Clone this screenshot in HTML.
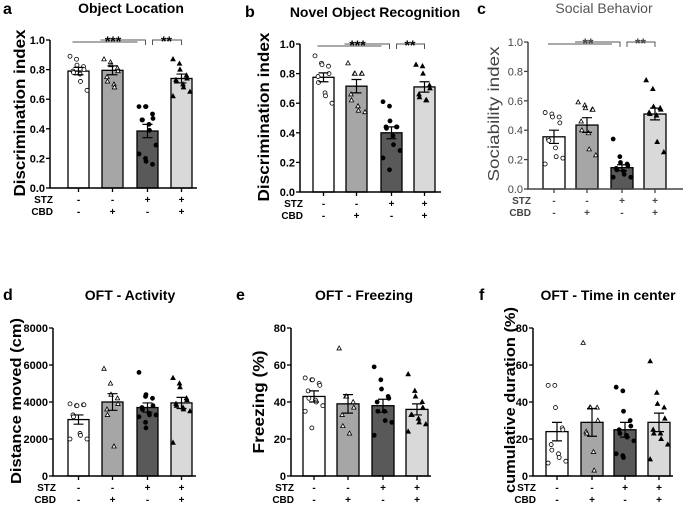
<!DOCTYPE html>
<html><head><meta charset="utf-8">
<style>
html,body{margin:0;padding:0;background:#fff;}
svg{display:block;font-family:"Liberation Sans",Arial,sans-serif;}
</style></head>
<body>
<svg id="fig" width="685" height="507" viewBox="0 0 685 507" xmlns="http://www.w3.org/2000/svg"></svg>
<script>
// ---- data ----
const groups = ["Vehicle","CBD","STZ","STZ+CBD"];
const stzRow = ["-","-","+","+"];
const cbdRow = ["-","+","-","+"];

const aMeans = [0.79,0.795,0.385,0.74];
const aSem = [0.025,0.03,0.045,0.03];
const aPts = [[0.89,0.87,0.83,0.82,0.80,0.79,0.78,0.77,0.72,0.66],[0.87,0.85,0.83,0.81,0.79,0.75,0.72,0.70,0.68],[0.55,0.55,0.55,0.50,0.47,0.46,0.46,0.43,0.39,0.29,0.23,0.20,0.18,0.16],[0.87,0.84,0.80,0.76,0.74,0.73,0.72,0.70,0.68,0.65,0.62]];
const bMeans = [0.775,0.715,0.40,0.71];
const bSem = [0.03,0.045,0.04,0.035];
const bPts = [[0.92,0.87,0.86,0.85,0.80,0.78,0.74,0.67,0.65,0.60],[0.87,0.80,0.80,0.80,0.80,0.66,0.62,0.58,0.55,0.54],[0.61,0.58,0.48,0.44,0.44,0.44,0.43,0.38,0.32,0.28,0.23,0.15],[0.86,0.85,0.80,0.72,0.70,0.66,0.64,0.62,0.62]];
const cMeans = [0.355,0.435,0.145,0.51];
const cSem = [0.045,0.05,0.02,0.04];
const cPts = [[0.52,0.51,0.49,0.49,0.45,0.34,0.33,0.28,0.22,0.21,0.17],[0.59,0.57,0.55,0.54,0.54,0.46,0.40,0.38,0.27,0.23],[0.34,0.22,0.18,0.17,0.16,0.14,0.13,0.12,0.10,0.08,0.08],[0.74,0.68,0.56,0.55,0.54,0.52,0.51,0.50,0.32,0.25]];
const dMeans = [3050,4000,3700,3950];
const dSem = [250,450,250,300];
const dPts = [[3900,3800,3800,3850,3850,3300,3200,2300,2200,2000,2000],[5800,5000,4400,4200,3900,3600,3300,1600],[5600,4300,4400,4200,3800,3700,3600,3400,3300,3300,3200,2900,2600],[5300,5000,4800,4200,4100,3900,3800,3700,3600,3500,1800]];
const eMeans = [43,39,38,36];
const eSem = [3,5,3.5,3];
const ePts = [[53,52,52,50,49,46,42,41,40,38,35,26],[69,43,43,40,37,33,27,23],[59,52,47,43,42,40,35,35,30,29,22],[55,46,43,40,37,33,33,31,29,28,24]];
const fMeans = [24,29,25,29];
const fSem = [5,7.5,4,5];
const fPts = [[49,49,37,26,25,17,14,12,10,8,7],[72,37,37,37,30,24,23,13,3],[48,46,35,30,27,25,23,22,21,19,12,11,10],[62,45,39,37,31,25,23,23,20,17,9]];

const ticksUnit = [0,0.2,0.4,0.6,0.8,1.0];
const tickLabelsUnit = ["0.0","0.2","0.4","0.6","0.8","1.0"];
const ticksDist = [0,2000,4000,6000,8000];
const tickLabelsDist = ["0","2000","4000","6000","8000"];
const ticksPct = [0,20,40,60,80];
const tickLabelsPct = ["0","20","40","60","80"];

const svg = document.getElementById('fig');
const NS = 'http://www.w3.org/2000/svg';
const fills = ['#ffffff','#a6a6a6','#595959','#d9d9d9'];

function mk(tag, attrs, parent){
  const e = document.createElementNS(NS, tag);
  for (const k in attrs) e.setAttribute(k, attrs[k]);
  (parent||svg).appendChild(e);
  return e;
}
function txt(s, attrs, parent){ const t = mk('text', attrs, parent); t.textContent = s; return t; }

function panel(c){
  const g = mk('g', {});
  
  
  const col = c.light ? '#444' : '#000';
  const fw = c.light ? 'normal' : 'bold';
  const y = v => c.y0 - (v - c.vmin) / (c.vmax - c.vmin) * (c.y0 - c.y1);
  const xc = i => c.bx[i] + c.bw/2;
  const L = txt(c.id, {x:c.lx, y:c.ly, 'font-size':16, 'font-weight':'bold', fill:'#000'}, g);
  
  
  const T = txt(c.title, {x:c.tx, y:c.ty, 'font-size':14, 'font-weight':fw, fill:c.light?'#555':'#000', 'text-anchor':'middle'}, g);
  
  
  const YL = txt(c.ylabel, {x:0, y:0, 'font-size':c.ylfs || 16, 'font-weight':fw, fill:col, 'text-anchor':'middle', textLength:c.ylLen, lengthAdjust:'spacingAndGlyphs', transform:'translate(' + c.ylx + ',' + c.yly + ') rotate(-90)'}, g);
  
  
  c.means.forEach((m, i) => {
    const r = mk('rect', {x:c.bx[i], y:y(m), width:c.bw, height:c.y0 - y(m), fill:fills[i], stroke:'#000', 'stroke-width':1.3}, g);
    
    
  });
  c.pts.forEach((arr, i) => {
    arr.forEach((v, j) => {
      const off = ((j % 5) - 2) * (c.bw / 6) + (j % 2 ? 1.5 : -1.5);
      const px = xc(i) + off, py = y(v);
      let p;
      if (i === 0 || i === 2) {
        p = mk('circle', {cx:px, cy:py, r:2, fill:i === 0 ? '#fff' : '#000', stroke:'#000', 'stroke-width':0.8}, g);
      } else {
        p = mk('polygon', {points:(px) + ',' + (py-2.4) + ' ' + (px-2.2) + ',' + (py+1.6) + ' ' + (px+2.2) + ',' + (py+1.6), fill:i === 1 ? '#fff' : '#000', stroke:'#000', 'stroke-width':0.8}, g);
      }
      
      
    });
  });
  c.means.forEach((m, i) => {
    const eb = mk('path', {d:'M' + xc(i) + ' ' + y(m - c.sem[i]) + 'V' + y(m + c.sem[i]) + 'M' + (xc(i)-5) + ' ' + y(m + c.sem[i]) + 'H' + (xc(i)+5) + 'M' + (xc(i)-5) + ' ' + y(m - c.sem[i]) + 'H' + (xc(i)+5), stroke:'#000', 'stroke-width':1.2, fill:'none'}, g);
    
    
  });
  const ax = mk('path', {d:'M' + c.ax + ' ' + c.y1 + 'V' + c.y0 + 'H' + c.axEnd, stroke:col, 'stroke-width':1.5, fill:'none'}, g);
  
  
  c.ticks.forEach((t, k) => {
    mk('line', {x1:c.ax - 4, x2:c.ax, y1:y(t), y2:y(t), stroke:col, 'stroke-width':1.3}, g);
    const tl = txt(c.tickLabels[k], {x:c.ax - 5, y:y(t) + 4, 'font-size':11, 'font-weight':fw, fill:col, 'text-anchor':'end'}, g);
    
    
  });
  groups.forEach((gname, i) => {
    mk('line', {x1:xc(i), x2:xc(i), y1:c.y0, y2:c.y0 + 4, stroke:col, 'stroke-width':1.3}, g);
    const s = txt(stzRow[i], {x:xc(i), y:c.y0 + 15, 'font-size':10, 'font-weight':'bold', fill:col, 'text-anchor':'middle'}, g);
    
    
    const b = txt(cbdRow[i], {x:xc(i), y:c.y0 + 27, 'font-size':10, 'font-weight':'bold', fill:col, 'text-anchor':'middle'}, g);
    
    
  });
  const s1 = txt('STZ', {x:c.ax + 3, y:c.y0 + 15, 'font-size':10, 'font-weight':'bold', fill:col, 'text-anchor':'end'}, g);
  
  
  const s2 = txt('CBD', {x:c.ax + 3, y:c.y0 + 27, 'font-size':10, 'font-weight':'bold', fill:col, 'text-anchor':'end'}, g);
  
  
  if (c.sig) {
    const by = c.y1 + 2;
    const br = mk('path', {d:'M' + (xc(0)-6) + ' ' + by + 'H' + (xc(2)-10) + 'M' + (xc(1)-12) + ' ' + (by-2) + 'H' + (xc(2)-2) + 'V' + (by+3) +
      'M' + (xc(2)+5) + ' ' + (by+3) + 'V' + (by-2) + 'H' + (xc(3)) + 'V' + (by+3), stroke:'#555', 'stroke-width':1, fill:'none'}, g);
    
    
    const st1 = txt(c.sig[0], {x:(xc(0)+xc(2))/2, y:by + 4, 'font-size':14, 'font-weight':'bold', fill:c.light?'#444':'#000', 'text-anchor':'middle'}, g);
    
    
    const st2 = txt(c.sig[1], {x:(xc(2)+xc(3))/2 + 2, y:by + 4, 'font-size':14, 'font-weight':'bold', fill:c.light?'#444':'#000', 'text-anchor':'middle'}, g);
    
    
  }
}

panel({id:'a', title:'Object Location', lx:3, ly:14, tx:131, ty:13, ylabel:'Discrimination index', ylx:25, yly:113, ylLen:167,
  ax:50, axEnd:197, y0:188, y1:40, vmin:0, vmax:1, bx:[68,102,137,171], bw:21,
  means:aMeans, sem:aSem, pts:aPts, ticks:ticksUnit, tickLabels:tickLabelsUnit, sig:['***','**']});
panel({id:'b', title:'Novel Object Recognition', lx:245, ly:17, tx:375, ty:17, ylabel:'Discrimination index', ylx:269, yly:117, ylLen:169,
  ax:300, axEnd:441, y0:192, y1:44, vmin:0, vmax:1, bx:[313,346,381,414], bw:21,
  means:bMeans, sem:bSem, pts:bPts, ticks:ticksUnit, tickLabels:tickLabelsUnit, sig:['***','**']});
panel({id:'c', title:'Social Behavior', lx:477, ly:14, tx:604, ty:13, ylabel:'Sociability index', ylx:499, yly:114, ylLen:135,
  ax:528, axEnd:683, y0:189, y1:42, vmin:0, vmax:1, bx:[543,576,611,644], bw:22, light:true,
  means:cMeans, sem:cSem, pts:cPts, ticks:ticksUnit, tickLabels:tickLabelsUnit, sig:['**','**']});
panel({id:'d', title:'OFT - Activity', lx:3, ly:300, tx:130, ty:300, ylabel:'Distance moved (cm)', ylfs:15, ylx:21, yly:401, ylLen:166,
  ax:53, axEnd:196, y0:476, y1:328, vmin:0, vmax:8000, bx:[68,102,137,171], bw:21,
  means:dMeans, sem:dSem, pts:dPts, ticks:ticksDist, tickLabels:tickLabelsDist});
panel({id:'e', title:'OFT - Freezing', lx:236, ly:300, tx:364, ty:300, ylabel:'Freezing (%)', ylx:264, yly:402, ylLen:103,
  ax:291, axEnd:431, y0:476, y1:328, vmin:0, vmax:80, bx:[303,337,372,406], bw:22,
  means:eMeans, sem:eSem, pts:ePts, ticks:ticksPct, tickLabels:tickLabelsPct});
panel({id:'f', title:'OFT - Time in center', lx:479, ly:300, tx:608, ty:300, ylabel:'cumulative duration (%)', ylfs:15, ylx:515, yly:400, ylLen:186,
  ax:533, axEnd:673, y0:476, y1:328, vmin:0, vmax:80, bx:[546,581,614,648], bw:22,
  means:fMeans, sem:fSem, pts:fPts, ticks:ticksPct, tickLabels:tickLabelsPct});
</script>
</body></html>
